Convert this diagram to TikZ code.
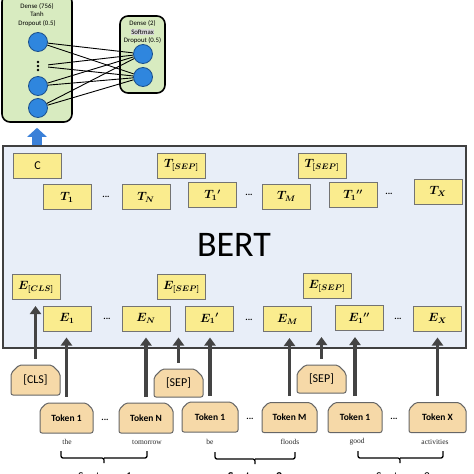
\documentclass[tikz,border=0pt]{standalone}
\usepackage{fontspec}
\setmainfont{Carlito}
\newfontfamily\wordfont{Liberation Serif}
\usepackage{amsmath,amssymb}
\usepackage{tikz}
\usetikzlibrary{arrows.meta,shapes.misc}
\definecolor{greenfill}{HTML}{D8EBC0}
\definecolor{neuronfill}{HTML}{2F86DE}
\definecolor{neurondraw}{HTML}{1B4F8C}
\definecolor{bertfill}{HTML}{E8EEF8}
\definecolor{embfill}{HTML}{FAEC8E}
\definecolor{tokfill}{HTML}{F6D9A8}
\definecolor{arrowgray}{HTML}{444444}
\definecolor{blockblue}{HTML}{3A80D8}
\tikzstyle{dense}=[draw=black,line width=1.6,fill=greenfill,rounded corners=8,inner sep=0]
\tikzstyle{denselabel}=[inner sep=0.6,font=\fontsize{6.8}{8.5}\selectfont,align=center]
\tikzstyle{neuron}=[circle,minimum size=19,inner sep=0,fill=neuronfill,draw=neurondraw,line width=0.8]
\tikzstyle{link}=[line width=0.9,black]
\tikzstyle{blockarrow}=[line width=10,blockblue,-{Triangle[width=19,length=9]},shorten >=5]
\tikzstyle{bertbox}=[draw=black!75,line width=1.6,fill=bertfill,minimum width=463,minimum height=202]
\tikzstyle{emb}=[draw=black!55,line width=1,fill=embfill,minimum width=48,minimum height=25,
                 inner sep=0,font=\fontsize{12}{14}\selectfont\boldmath]
\tikzstyle{tok}=[chamfered rectangle,chamfered rectangle corners={north west,north east},
                 chamfered rectangle xsep=5,rounded corners=2,draw=black!60,line width=1,
                 fill=tokfill,minimum height=30,inner sep=0]
\tikzstyle{gap}=[inner sep=0,font=\fontsize{9}{9}\selectfont\bfseries]
\tikzstyle{tokarrow}=[line width=3.5,arrowgray,-{Triangle[width=11,length=8]},shorten >=6,shorten <=6]
\tikzstyle{word}=[font=\wordfont\fontsize{7.5}{8}\selectfont,text=black!85,inner sep=0]
\tikzstyle{brace}=[line width=1.3,rounded corners=2]
\tikzset{>=latex}

\begin{document}
\begin{tikzpicture}[x=1pt,y=-1pt]
  \def\tw{9.5}  % token font size
  \def\wy{442}  % word line
  \def\by{451}  % brace top
  \useasboundingbox (0,0) rectangle (474,474);
  \clip (0,0) rectangle (474,474);

  % CLASSIFIER
  \node[dense,minimum width=70,minimum height=128] (hidden) at (37,58) {};
  \node[dense,minimum width=45,minimum height=77] (output) at (142.5,54.5) {};
  \node[denselabel] (hiddenlab) at (37,15) {Dense (756)\\Tanh\\Dropout (0.5)};
  \node[denselabel] (outlab1) at (142.5,23) {Dense (2)};
  \node[denselabel,fill=black!15] (outlab2) at (142.5,32) {Softmax};
  \node[denselabel] (outlab3) at (142.5,40.5) {Dropout (0.5)};
  \node[neuron] (h1) at (38,42) {};
  \node[inner sep=0,minimum width=20,minimum height=12] (hd) at (38,66) {};
  \foreach \d in {-4,0,4}
    \fill (hd.center) ++(0,\d) circle (1.3);
  \node[neuron] (h2) at (38,86) {};
  \node[neuron] (h3) at (38,108) {};
  \node[neuron] (o1) at (143,54) {};
  \node[neuron] (o2) at (143,77) {};
  \foreach \a in {h1,hd,h2,h3}
    \foreach \b in {o1,o2}
      \draw[link] (\a) -- (\b);

  % BERT
  \node[bertbox] (bert) at (234.5,247) {};
  \node[font=\fontsize{36}{40}\selectfont] (berttitle) at (234,245) {BERT};
  \draw[blockarrow] (hidden.south |- bert.north) -- (hidden.south);

  % OUTPUT EMBEDDINGS
  \node[emb] (c)     at (37.5,165.5) {C};
  \node[emb] (tsepa) at (181.5,165.5) {$T_{[SEP]}$};
  \node[emb] (tsepb) at (322,165.5) {$T_{[SEP]}$};
  \node[emb] (t1)    at (67,197) {$T_1$};
  \node[emb] (tn)    at (146,197) {$T_N$};
  \node[emb] (t1p)   at (212.5,195) {$T_1{}'$};
  \node[emb] (tm)    at (286.5,196.5) {$T_M$};
  \node[emb] (t1pp)  at (353,195) {$T_1{}''$};
  \node[emb] (tx)    at (438,191.5) {$T_X$};
  \node[gap] (tdots1) at (106,197) {...};
  \node[gap] (tdots2) at (249,195) {...};
  \node[gap] (tdots3) at (389,194) {...};

  % INPUT EMBEDDINGS
  \node[emb] (ecls)  at (36,287) {$E_{[CLS]}$};
  \node[emb] (esepa) at (181.5,287) {$E_{[SEP]}$};
  \node[emb] (esepb) at (327,286) {$E_{[SEP]}$};
  \node[emb] (e1)    at (67,318.5) {$E_1$};
  \node[emb] (en)    at (146,318.5) {$E_N$};
  \node[emb] (e1p)   at (209.5,318.5) {$E_1{}'$};
  \node[emb] (em)    at (287.5,319) {$E_M$};
  \node[emb] (e1pp)  at (359,318) {$E_1{}''$};
  \node[emb] (ex)    at (437.5,318.5) {$E_X$};
  \node[gap] (edots1) at (107,319) {...};
  \node[gap] (edots2) at (249,320) {...};
  \node[gap] (edots3) at (398,319) {...};

  % TOKENS
  \node[tok,minimum width=49,font=\fontsize{12}{14}\selectfont] (cls)  at (35.5,380) {[CLS]};
  \node[tok,minimum width=49,minimum height=28,font=\fontsize{12}{14}\selectfont] (sepa) at (178.5,383) {[SEP]};
  \node[tok,minimum width=49,minimum height=28,font=\fontsize{12}{14}\selectfont] (sepb) at (321.5,379) {[SEP]};
  \node[tok,minimum width=53,font=\fontsize{\tw}{11}\selectfont\bfseries] (tok1a) at (66.5,418) {Token 1};
  \node[tok,minimum width=54,font=\fontsize{\tw}{11}\selectfont\bfseries] (tokn)  at (146,418) {Token N};
  \node[tok,minimum width=56,font=\fontsize{\tw}{11}\selectfont\bfseries] (tok1b) at (210,417) {Token 1};
  \node[tok,minimum width=55,font=\fontsize{\tw}{11}\selectfont\bfseries] (tokm)  at (289.5,417.5) {Token M};
  \node[tok,minimum width=54,font=\fontsize{\tw}{11}\selectfont\bfseries] (tok1c) at (355,417.5) {Token 1};
  \node[tok,minimum width=57,font=\fontsize{\tw}{11}\selectfont\bfseries] (tokx)  at (437.5,417.5) {Token X};
  \node[gap] (kdots1) at (105,420) {...};
  \node[gap] (kdots2) at (250,419) {...};
  \node[gap] (kdots3) at (394,419) {...};

  % TOKEN ARROWS
  \draw[tokarrow] (cls.north) -- (cls.north |- ecls.south);
  \draw[tokarrow] (tok1a.north) -- (tok1a.north |- e1.south);
  \draw[tokarrow] (tokn.north) -- (tokn.north |- en.south);
  \draw[tokarrow] (sepa.north) -- (sepa.north |- e1p.south);
  \draw[tokarrow] (tok1b.north) -- (tok1b.north |- e1p.south);
  \draw[tokarrow] (tokm.north) -- (tokm.north |- em.south);
  \draw[tokarrow] (sepb.north) -- (sepb.north |- e1pp.south);
  \draw[tokarrow] (tok1c.north) -- (tok1c.north |- e1pp.south);
  \draw[tokarrow] (tokx.north) -- (tokx.north |- ex.south);

  % WORDS & SENTENCES
  \node[word] (w1) at (67,\wy) {the};
  \node[word] (w2) at (147,\wy) {tomorrow};
  \node[word] (w3) at (210,\wy) {be};
  \node[word] (w4) at (290,\wy) {floods};
  \node[word] (w5) at (357,\wy) {good};
  \node[word] (w6) at (435,\wy) {activities};
  \draw[brace] (61,\by) |- (104,\by+7) -- ++(0,5) ++(0,-5) -| (147,\by);
  \draw[brace] (215,\by+1) |- (255,\by+8) -- ++(0,5) ++(0,-5) -| (295,\by+1);
  \draw[brace] (358,\by) |- (400,\by+7) -- ++(0,5) ++(0,-5) -| (443,\by);
  \node[anchor=north,font=\fontsize{12}{14}\selectfont] (sent1) at (105,469) {Sentence 1};
  \node[anchor=north,font=\fontsize{12}{14}\selectfont\bfseries] (sent2) at (255,469) {Sentence 2};
  \node[anchor=north,font=\fontsize{12}{14}\selectfont] (sent3) at (403,469) {Sentence 3};
\end{tikzpicture}
\end{document}
